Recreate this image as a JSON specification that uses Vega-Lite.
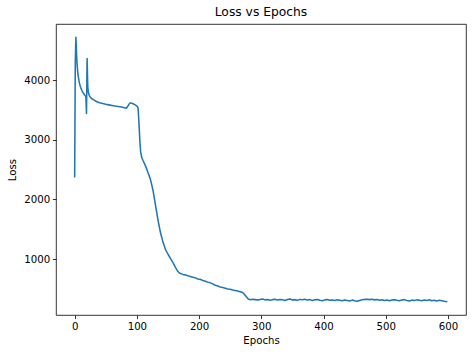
{
  "$schema": "https://vega.github.io/schema/vega-lite/v6.json",
  "width": 410,
  "height": 291,
  "autosize": {"type": "none"},
  "padding": {"left": 56, "top": 24, "right": 8, "bottom": 40},
  "background": "white",
  "title": {"text": "Loss vs Epochs", "font": "DejaVu Sans", "fontSize": 12.3, "fontWeight": "normal", "color": "black", "anchor": "middle", "offset": 6},
  "config": {
    "view": {"stroke": "black", "strokeWidth": 0.8},
    "axis": {
      "domain": false, "grid": false,
      "labelFont": "DejaVu Sans", "labelFontSize": 10.2, "labelColor": "black",
      "titleFont": "DejaVu Sans", "titleFontSize": 10.2, "titleFontWeight": "normal", "titleColor": "black",
      "tickColor": "black", "tickSize": 3.6, "tickWidth": 0.8, "labelPadding": 2.6
    }
  },
  "data": {"values": [
    {"epoch": 0, "loss": 2370}, {"epoch": 1, "loss": 4300}, {"epoch": 2, "loss": 4724}, {"epoch": 3, "loss": 4450},
    {"epoch": 4, "loss": 4250}, {"epoch": 5, "loss": 4130}, {"epoch": 6, "loss": 4050}, {"epoch": 7, "loss": 3990},
    {"epoch": 8, "loss": 3940}, {"epoch": 9, "loss": 3900}, {"epoch": 10, "loss": 3870}, {"epoch": 11, "loss": 3845},
    {"epoch": 12, "loss": 3820}, {"epoch": 13, "loss": 3800}, {"epoch": 14, "loss": 3785}, {"epoch": 15, "loss": 3770},
    {"epoch": 16, "loss": 3755}, {"epoch": 17, "loss": 3742}, {"epoch": 18, "loss": 3730}, {"epoch": 19, "loss": 3445},
    {"epoch": 20, "loss": 4367}, {"epoch": 21, "loss": 3900}, {"epoch": 22, "loss": 3800}, {"epoch": 23, "loss": 3760},
    {"epoch": 24, "loss": 3735}, {"epoch": 26, "loss": 3705}, {"epoch": 28, "loss": 3690}, {"epoch": 30, "loss": 3675},
    {"epoch": 35, "loss": 3645}, {"epoch": 40, "loss": 3625}, {"epoch": 45, "loss": 3610}, {"epoch": 50, "loss": 3598},
    {"epoch": 55, "loss": 3588}, {"epoch": 60, "loss": 3578}, {"epoch": 65, "loss": 3568}, {"epoch": 70, "loss": 3560},
    {"epoch": 75, "loss": 3552}, {"epoch": 80, "loss": 3540}, {"epoch": 83, "loss": 3530}, {"epoch": 85, "loss": 3560},
    {"epoch": 88, "loss": 3610}, {"epoch": 90, "loss": 3622}, {"epoch": 93, "loss": 3610}, {"epoch": 96, "loss": 3595},
    {"epoch": 99, "loss": 3575}, {"epoch": 101, "loss": 3560}, {"epoch": 102, "loss": 3520}, {"epoch": 103, "loss": 3350},
    {"epoch": 104, "loss": 3150}, {"epoch": 105, "loss": 2950}, {"epoch": 106, "loss": 2800}, {"epoch": 108, "loss": 2700},
    {"epoch": 110, "loss": 2650}, {"epoch": 114, "loss": 2560}, {"epoch": 118, "loss": 2450}, {"epoch": 122, "loss": 2330},
    {"epoch": 126, "loss": 2150}, {"epoch": 130, "loss": 1900}, {"epoch": 134, "loss": 1650}, {"epoch": 138, "loss": 1440},
    {"epoch": 142, "loss": 1280}, {"epoch": 146, "loss": 1160}, {"epoch": 150, "loss": 1080}, {"epoch": 154, "loss": 1010},
    {"epoch": 158, "loss": 940}, {"epoch": 162, "loss": 860}, {"epoch": 166, "loss": 790}, {"epoch": 168, "loss": 770},
    {"epoch": 170, "loss": 758}, {"epoch": 174, "loss": 742}, {"epoch": 178, "loss": 730}, {"epoch": 182, "loss": 718},
    {"epoch": 186, "loss": 708}, {"epoch": 190, "loss": 695}, {"epoch": 194, "loss": 684}, {"epoch": 198, "loss": 665},
    {"epoch": 202, "loss": 658}, {"epoch": 206, "loss": 640}, {"epoch": 210, "loss": 628}, {"epoch": 214, "loss": 612},
    {"epoch": 218, "loss": 600}, {"epoch": 222, "loss": 582}, {"epoch": 226, "loss": 560}, {"epoch": 230, "loss": 546},
    {"epoch": 234, "loss": 530}, {"epoch": 238, "loss": 522}, {"epoch": 242, "loss": 510}, {"epoch": 246, "loss": 498},
    {"epoch": 250, "loss": 492}, {"epoch": 254, "loss": 480}, {"epoch": 258, "loss": 472}, {"epoch": 262, "loss": 462},
    {"epoch": 266, "loss": 450}, {"epoch": 270, "loss": 438}, {"epoch": 273, "loss": 405}, {"epoch": 276, "loss": 365},
    {"epoch": 279, "loss": 328}, {"epoch": 282, "loss": 315}, {"epoch": 286, "loss": 326}, {"epoch": 290, "loss": 318},
    {"epoch": 294, "loss": 310}, {"epoch": 298, "loss": 322}, {"epoch": 302, "loss": 330}, {"epoch": 306, "loss": 314},
    {"epoch": 310, "loss": 320}, {"epoch": 314, "loss": 308}, {"epoch": 318, "loss": 318}, {"epoch": 322, "loss": 326},
    {"epoch": 326, "loss": 312}, {"epoch": 330, "loss": 322}, {"epoch": 334, "loss": 316}, {"epoch": 338, "loss": 305},
    {"epoch": 342, "loss": 320}, {"epoch": 346, "loss": 328}, {"epoch": 350, "loss": 312}, {"epoch": 354, "loss": 318},
    {"epoch": 358, "loss": 306}, {"epoch": 362, "loss": 322}, {"epoch": 366, "loss": 315}, {"epoch": 370, "loss": 326},
    {"epoch": 374, "loss": 310}, {"epoch": 378, "loss": 318}, {"epoch": 382, "loss": 304}, {"epoch": 386, "loss": 316},
    {"epoch": 390, "loss": 322}, {"epoch": 394, "loss": 308}, {"epoch": 398, "loss": 300}, {"epoch": 402, "loss": 314},
    {"epoch": 406, "loss": 320}, {"epoch": 410, "loss": 306}, {"epoch": 414, "loss": 312}, {"epoch": 418, "loss": 302},
    {"epoch": 422, "loss": 316}, {"epoch": 426, "loss": 308}, {"epoch": 430, "loss": 298}, {"epoch": 434, "loss": 312},
    {"epoch": 438, "loss": 304}, {"epoch": 442, "loss": 296}, {"epoch": 446, "loss": 310}, {"epoch": 450, "loss": 300},
    {"epoch": 454, "loss": 292}, {"epoch": 458, "loss": 305}, {"epoch": 462, "loss": 316}, {"epoch": 466, "loss": 322},
    {"epoch": 470, "loss": 326}, {"epoch": 474, "loss": 318}, {"epoch": 478, "loss": 324}, {"epoch": 482, "loss": 314},
    {"epoch": 486, "loss": 320}, {"epoch": 490, "loss": 308}, {"epoch": 494, "loss": 316}, {"epoch": 498, "loss": 304},
    {"epoch": 502, "loss": 312}, {"epoch": 506, "loss": 300}, {"epoch": 510, "loss": 310}, {"epoch": 514, "loss": 318},
    {"epoch": 518, "loss": 306}, {"epoch": 522, "loss": 300}, {"epoch": 526, "loss": 312}, {"epoch": 530, "loss": 318},
    {"epoch": 534, "loss": 304}, {"epoch": 538, "loss": 296}, {"epoch": 542, "loss": 310}, {"epoch": 546, "loss": 302},
    {"epoch": 550, "loss": 314}, {"epoch": 554, "loss": 306}, {"epoch": 558, "loss": 298}, {"epoch": 562, "loss": 312},
    {"epoch": 566, "loss": 304}, {"epoch": 570, "loss": 316}, {"epoch": 574, "loss": 300}, {"epoch": 578, "loss": 308},
    {"epoch": 582, "loss": 296}, {"epoch": 586, "loss": 306}, {"epoch": 590, "loss": 300}, {"epoch": 594, "loss": 290},
    {"epoch": 599, "loss": 284}
  ]},
  "mark": {"type": "line", "color": "#1f77b4", "strokeWidth": 1.55, "strokeJoin": "round", "strokeCap": "butt"},
  "encoding": {
    "x": {"field": "epoch", "type": "quantitative", "title": "Epochs",
          "scale": {"domain": [-30, 629], "nice": false, "zero": false},
          "axis": {"values": [0, 100, 200, 300, 400, 500, 600], "format": "d", "titlePadding": 4}},
    "y": {"field": "loss", "type": "quantitative", "title": "Loss",
          "scale": {"domain": [60, 4946], "nice": false, "zero": false},
          "axis": {"values": [1000, 2000, 3000, 4000], "format": "d", "titlePadding": 6}}
  }
}
